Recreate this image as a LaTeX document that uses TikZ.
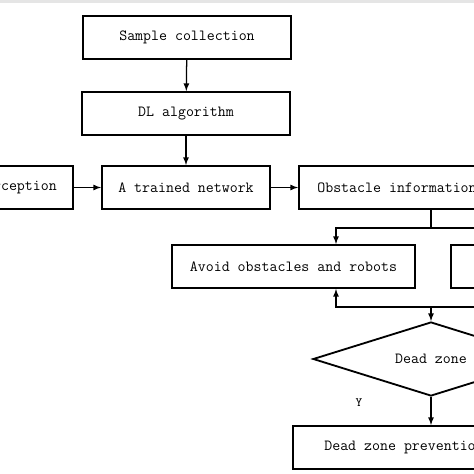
\documentclass[tikz,border=0pt]{standalone}
\usetikzlibrary{shapes.geometric}

\tikzset{
	box/.style={draw, line width=1.3pt, minimum height=43*0.025cm, inner sep=0pt, font=\fontsize{11}{13}\selectfont\ttfamily},
	line/.style={line width=0.9pt},
}

\begin{document}
\begin{tikzpicture}[x=0.025cm,y=-0.025cm,>=latex]
	\clip (0,0) rectangle (474,474);
	\useasboundingbox (0,0) rectangle (474,474);
	\fill[gray!20] (0,0) rectangle (474,3);

	\node[box, minimum width=208*0.025cm] (sample) at (187,37.5) {Sample collection};
	\node[box, minimum width=208*0.025cm] (dl) at (186,113.5) {DL algorithm};
	\node[box, minimum width=112*0.025cm] (perc) at (17,187.5) {Perception};
	\node[box, minimum width=168*0.025cm] (trained) at (186,187.5) {A trained network};
	\node[box, minimum width=196*0.025cm] (obst) at (397,187.5) {Obstacle information};
	\node[box, minimum width=243*0.025cm] (avoid) at (293.5,266.5) {Avoid obstacles and robots};
	\node[box, minimum width=150*0.025cm] (rbox) at (526,266.5) {};
	\node[box, diamond, aspect=3.2, minimum width=236*0.025cm, minimum height=74*0.025cm] (dz) at (431,359) {Dead zone};
	\node[box, minimum width=222*0.025cm] (prev) at (404,447.5) {Dead zone prevention};
	\node[font=\fontsize{9}{11}\selectfont\ttfamily] (ylab) at (359,403) {Y};

	\coordinate (split) at (431,228);
	\coordinate (merge) at (431,307);
	\coordinate (l1) at (336,228);

	\draw[line,->] (sample) -- (dl);
	\draw[line,->] (dl) -- (trained);
	\draw[line,->] (perc) -- (trained);
	\draw[line,->] (trained) -- (obst);
	\draw[line] (split |- obst.south) -- (split);
	\draw[line,->] (split) -| (l1 |- avoid.north);
	\draw[line,->] (split) -| (rbox.north);
	\draw[line,->] (merge) -| (l1 |- avoid.south);
	\draw[line] (rbox.south) |- (merge);
	\draw[line,->] (merge) -- (dz.north);
	\draw[line,->] (dz.south) -- (dz.south |- prev.north);
\end{tikzpicture}
\end{document}
